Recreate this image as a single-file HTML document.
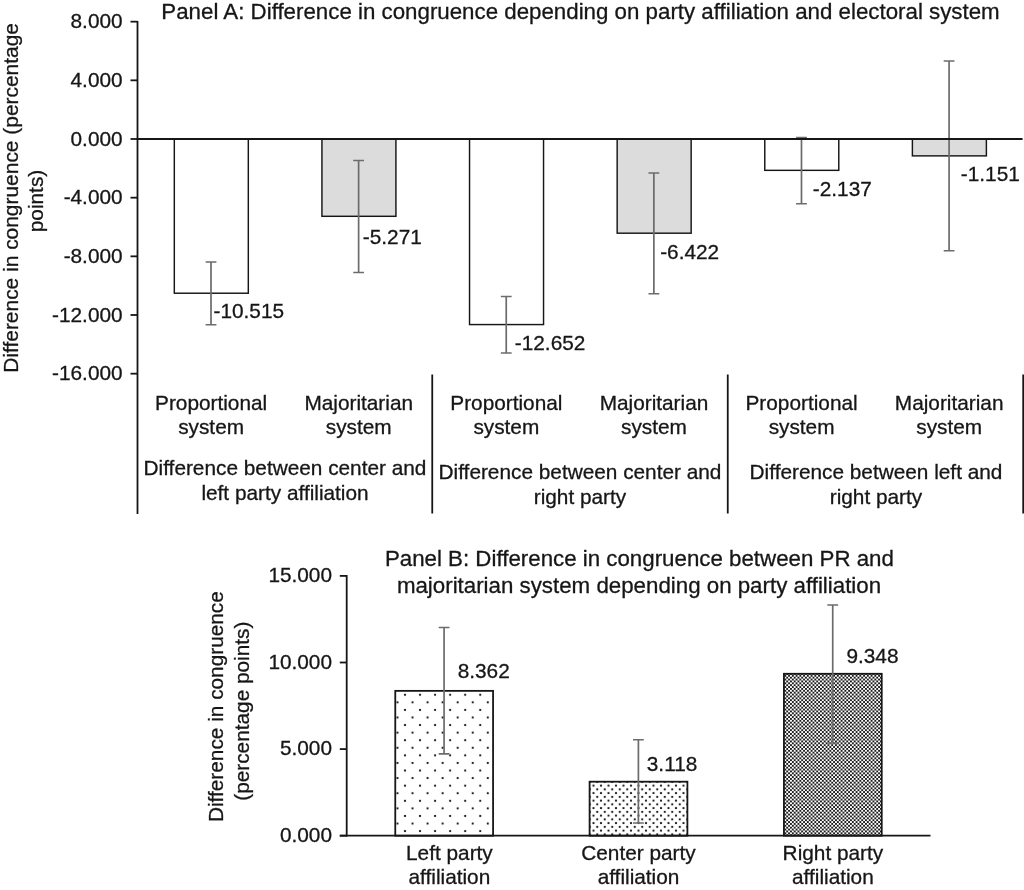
<!DOCTYPE html>
<html lang="en"><head><meta charset="utf-8"><title>Difference in congruence</title>
<style>html,body{margin:0;padding:0;background:#fff}body{width:1024px;height:890px;overflow:hidden}svg{display:block}text{font-family:"Liberation Sans",Arial,Helvetica,sans-serif;font-size:20.8px;fill:#161616;stroke:#161616;stroke-width:.3px}.ax{stroke:#161616;stroke-width:1.8;fill:none}.bar{stroke:#161616;stroke-width:1.45}.eb{stroke:#6c6c6c;stroke-width:1.7;fill:none}.b2{stroke-width:1.8}.t{font-size:22.3px}.m{text-anchor:middle}.e{text-anchor:end}</style></head><body>
<svg width="1024" height="890" viewBox="0 0 1024 890">
<defs>
<pattern id="p1" patternUnits="userSpaceOnUse" x="405" y="694.75" width="15.05" height="15.15"><rect x="-1" y="-1" width="2" height="2" fill="#222"/><rect x="14.05" y="-1" width="2" height="2" fill="#222"/><rect x="-1" y="14.15" width="2" height="2" fill="#222"/><rect x="14.05" y="14.15" width="2" height="2" fill="#222"/><rect x="6.52" y="6.57" width="2" height="2" fill="#222"/></pattern>
<pattern id="p2" patternUnits="userSpaceOnUse" x="593.5" y="785.6" width="7.5" height="7.5"><rect x="-1" y="-1" width="2" height="2" fill="#222"/><rect x="6.5" y="-1" width="2" height="2" fill="#222"/><rect x="-1" y="6.5" width="2" height="2" fill="#222"/><rect x="6.5" y="6.5" width="2" height="2" fill="#222"/><rect x="2.75" y="2.75" width="2" height="2" fill="#222"/></pattern>
<pattern id="p3" patternUnits="userSpaceOnUse" x="786.26" y="674.86" width="3.75" height="3.75"><rect x="0" y="0" width="3.75" height="3.75" fill="#1c1c1c"/><rect x="0" y="0" width="1.875" height="1.875" fill="#fff"/><rect x="1.875" y="1.875" width="1.875" height="1.875" fill="#fff"/></pattern>
</defs>
<rect width="1024" height="890" fill="#fff"/>
<text class="m t" x="580.5" y="19">Panel A: Difference in congruence depending on party affiliation and electoral system</text>
<text class="m" style="font-size:20.93px" transform="translate(18.2,197.9) rotate(-90)">Difference in congruence (percentage</text>
<text class="m" transform="translate(43.1,201) rotate(-90)">points)</text>
<line class="ax" x1="130.5" y1="21.66" x2="137.50" y2="21.66"/>
<text class="e" x="122.6" y="28.46">8.000</text>
<line class="ax" x1="130.5" y1="80.33" x2="137.50" y2="80.33"/>
<text class="e" x="122.6" y="87.13">4.000</text>
<line class="ax" x1="130.5" y1="139.00" x2="137.50" y2="139.00"/>
<text class="e" x="122.6" y="145.80">0.000</text>
<line class="ax" x1="130.5" y1="197.67" x2="137.50" y2="197.67"/>
<text class="e" x="122.6" y="204.47">-4.000</text>
<line class="ax" x1="130.5" y1="256.34" x2="137.50" y2="256.34"/>
<text class="e" x="122.6" y="263.14">-8.000</text>
<line class="ax" x1="130.5" y1="315.00" x2="137.50" y2="315.00"/>
<text class="e" x="122.6" y="321.80">-12.000</text>
<line class="ax" x1="130.5" y1="373.67" x2="137.50" y2="373.67"/>
<text class="e" x="122.6" y="380.47">-16.000</text>
<rect class="bar" x="174.31" y="139.00" width="74.00" height="154.22" fill="#fff"/>
<rect class="bar" x="321.93" y="139.00" width="74.00" height="77.31" fill="#dcdcdc"/>
<rect class="bar" x="469.54" y="139.00" width="74.00" height="185.57" fill="#fff"/>
<rect class="bar" x="617.16" y="139.00" width="74.00" height="94.19" fill="#dcdcdc"/>
<rect class="bar" x="764.78" y="139.00" width="74.00" height="31.34" fill="#fff"/>
<rect class="bar" x="912.39" y="139.00" width="74.00" height="16.88" fill="#dcdcdc"/>
<path class="eb" d="M205.61 262.00H216.41M211.01 262.00V324.75M205.61 324.75H216.41"/>
<text x="213.50" y="317.50">-10.515</text>
<path class="eb" d="M353.23 160.50H364.02M358.62 160.50V272.50M353.23 272.50H364.02"/>
<text x="362.80" y="244.25">-5.271</text>
<path class="eb" d="M500.84 296.50H511.64M506.24 296.50V353.00M500.84 353.00H511.64"/>
<text x="514.80" y="350.00">-12.652</text>
<path class="eb" d="M648.46 173.00H659.26M653.86 173.00V293.75M648.46 293.75H659.26"/>
<text x="660.20" y="258.50">-6.422</text>
<path class="eb" d="M796.08 137.50H806.88M801.48 137.50V203.75M796.08 203.75H806.88"/>
<text x="812.80" y="195.75">-2.137</text>
<path class="eb" d="M943.69 61.00H954.49M949.09 61.00V250.75M943.69 250.75H954.49"/>
<text x="960.80" y="180.50">-1.151</text>
<line class="ax" x1="137.50" y1="21" x2="137.50" y2="514"/>
<line class="ax" x1="136.50" y1="139.00" x2="1022.6" y2="139.00"/>
<line class="ax" x1="432.25" y1="374.5" x2="432.25" y2="513.5"/>
<line class="ax" x1="727.75" y1="374.5" x2="727.75" y2="513.5"/>
<line class="ax" x1="1023.20" y1="374.5" x2="1023.20" y2="513.5"/>
<text class="m" x="211.11" y="409.6">Proportional</text>
<text class="m" x="211.11" y="434.1">system</text>
<text class="m" x="358.73" y="409.6">Majoritarian</text>
<text class="m" x="358.73" y="434.1">system</text>
<text class="m" x="506.34" y="409.6">Proportional</text>
<text class="m" x="506.34" y="434.1">system</text>
<text class="m" x="653.96" y="409.6">Majoritarian</text>
<text class="m" x="653.96" y="434.1">system</text>
<text class="m" x="801.58" y="409.6">Proportional</text>
<text class="m" x="801.58" y="434.1">system</text>
<text class="m" x="949.19" y="409.6">Majoritarian</text>
<text class="m" x="949.19" y="434.1">system</text>
<text class="m" x="285" y="475.2">Difference between center and</text>
<text class="m" x="285" y="500">left party affiliation</text>
<text class="m" x="580" y="478.5">Difference between center and</text>
<text class="m" x="580" y="503.5">right party</text>
<text class="m" x="876" y="478.5">Difference between left and</text>
<text class="m" x="876" y="503.5">right party</text>
<text class="m t" x="639.4" y="566.25">Panel B: Difference in congruence between PR and</text>
<text class="m t" x="639" y="593.25">majoritarian system depending on party affiliation</text>
<text class="m" transform="translate(223.4,706.6) rotate(-90)">Difference in congruence</text>
<text class="m" transform="translate(249.4,711.2) rotate(-90)">(percentage points)</text>
<line class="ax" x1="339.8" y1="575.90" x2="346.70" y2="575.90"/>
<text class="e" x="332" y="582.20">15.000</text>
<line class="ax" x1="339.8" y1="662.50" x2="346.70" y2="662.50"/>
<text class="e" x="332" y="668.80">10.000</text>
<line class="ax" x1="339.8" y1="749.10" x2="346.70" y2="749.10"/>
<text class="e" x="332" y="755.40">5.000</text>
<line class="ax" x1="339.8" y1="835.70" x2="346.70" y2="835.70"/>
<text class="e" x="332" y="842.00">0.000</text>
<rect x="395.27" y="690.87" width="97.80" height="144.83" fill="#fff"/>
<rect class="bar b2" x="395.27" y="690.87" width="97.80" height="144.83" fill="url(#p1)"/>
<rect x="589.60" y="781.70" width="97.80" height="54.00" fill="#fff"/>
<rect class="bar b2" x="589.60" y="781.70" width="97.80" height="54.00" fill="url(#p2)"/>
<rect x="783.93" y="673.79" width="97.80" height="161.91" fill="#fff"/>
<rect class="bar b2" x="783.93" y="673.79" width="97.80" height="161.91" fill="url(#p3)"/>
<path class="eb" d="M438.67 627.50H449.47M444.07 627.50V753.90M438.67 753.90H449.47"/>
<text x="457.70" y="677.50">8.362</text>
<path class="eb" d="M633.00 739.75H643.80M638.40 739.75V823.00M633.00 823.00H643.80"/>
<text x="646.80" y="770.60">3.118</text>
<path class="eb" d="M827.33 605.00H838.13M832.73 605.00V743.00M827.33 743.00H838.13"/>
<text x="846.45" y="662.50">9.348</text>
<line class="ax" x1="346.70" y1="574.9" x2="346.70" y2="836.60"/>
<line class="ax" x1="339.8" y1="835.70" x2="930.5" y2="835.70"/>
<text class="m" x="449.40" y="860">Left party</text>
<text class="m" x="449.40" y="884.25">affiliation</text>
<text class="m" x="638.50" y="860">Center party</text>
<text class="m" x="638.50" y="884.25">affiliation</text>
<text class="m" x="832.90" y="860">Right party</text>
<text class="m" x="832.90" y="884.25">affiliation</text>
</svg></body></html>
